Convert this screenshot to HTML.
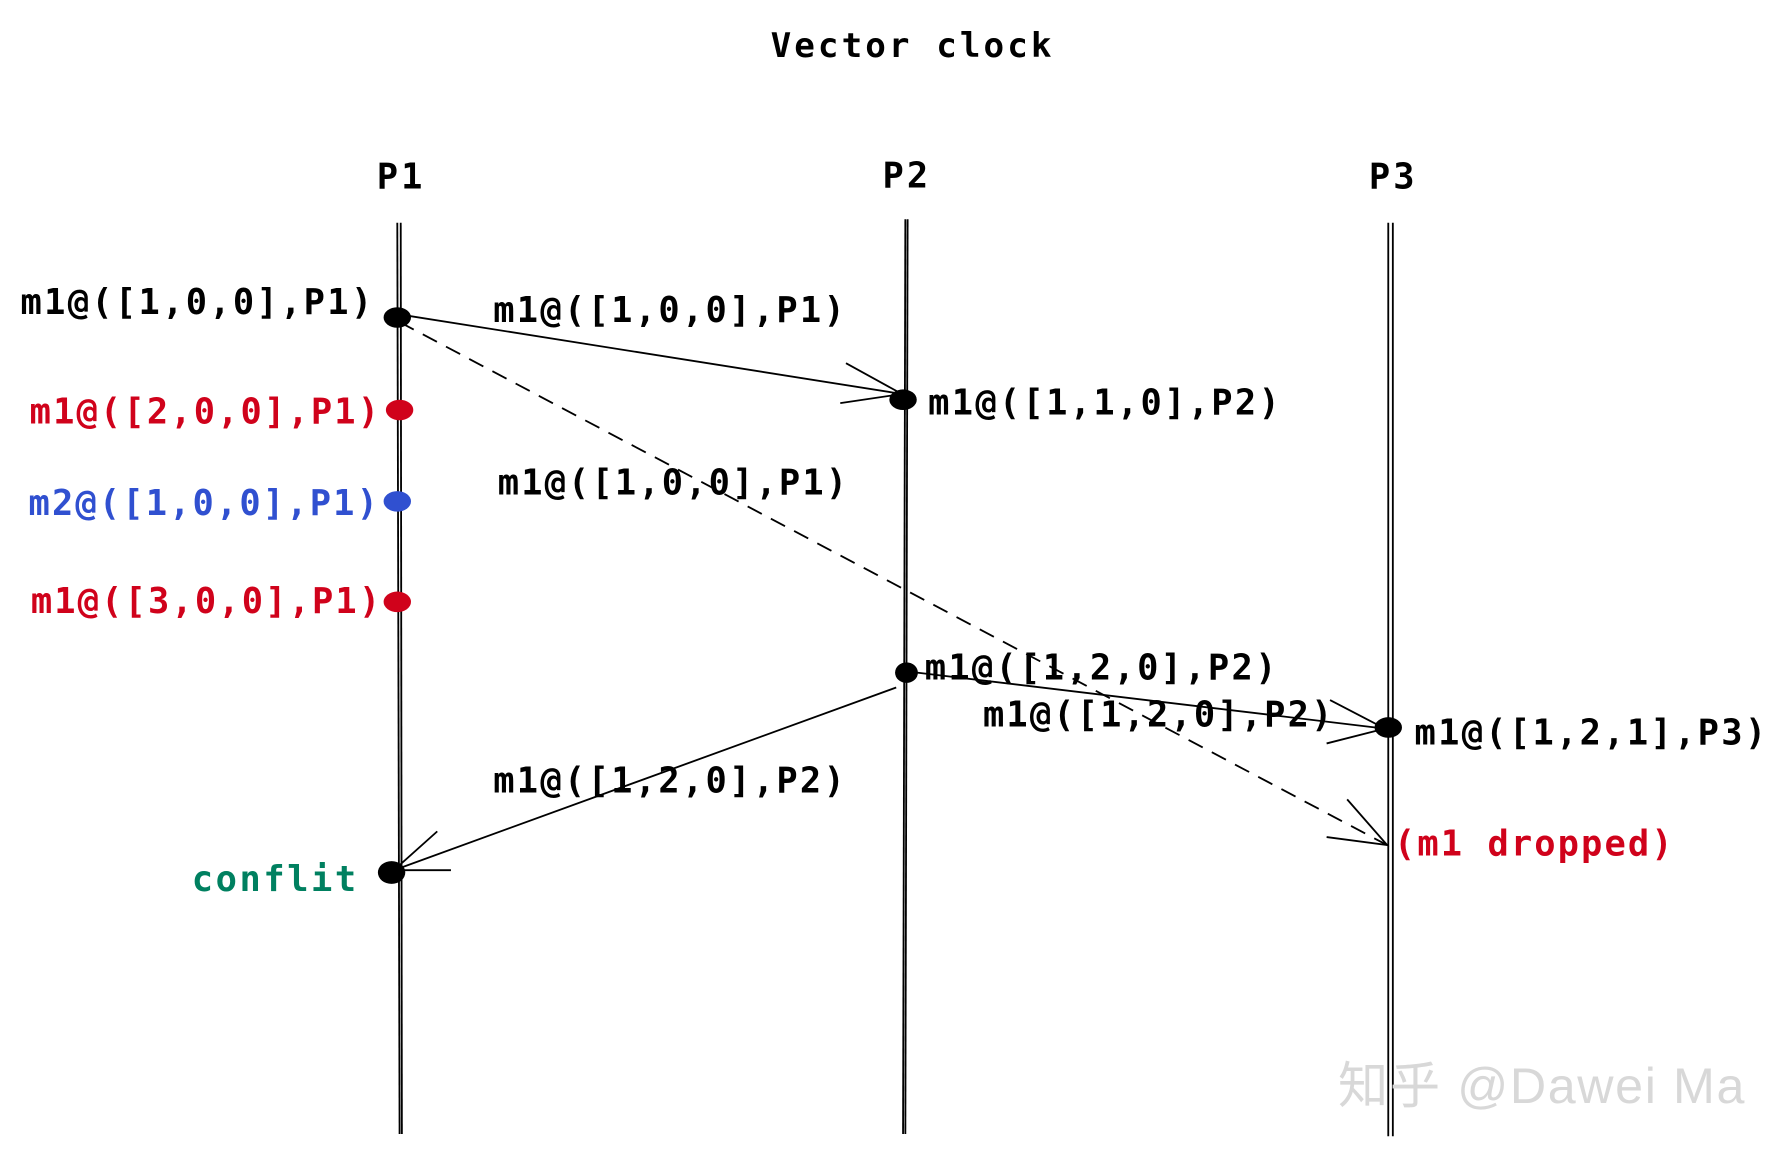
<!DOCTYPE html>
<html><head><meta charset="utf-8"><style>html,body{margin:0;padding:0;background:#fff}svg{display:block}</style></head><body>
<svg width="1781" height="1150" viewBox="0 0 1560 1007" preserveAspectRatio="none" xmlns="http://www.w3.org/2000/svg">
<g font-family="DejaVu Sans Mono, Liberation Mono, monospace" font-size="31" font-weight="bold" fill="#000">
<text x="675" y="50" textLength="246" font-size="30">Vector clock</text>
<text x="330" y="165" textLength="40">P1</text>
<text x="773" y="164" textLength="40">P2</text>
<text x="1199" y="165" textLength="40">P3</text>
</g>
<g stroke="#000" stroke-width="1.6" fill="none">
<line x1="348" y1="195" x2="350" y2="993"/><line x1="351" y1="195" x2="352" y2="993"/>
<line x1="793" y1="192" x2="791" y2="993"/><line x1="795" y1="192" x2="793" y2="993"/>
<line x1="1216" y1="195" x2="1216" y2="995"/><line x1="1220" y1="195" x2="1220" y2="995"/>
<line x1="348" y1="275" x2="790" y2="345"/>
<path d="M741 318 L790 345 L736 353"/>
<line x1="350" y1="282" x2="1215" y2="740" stroke-dasharray="14,9"/>
<path d="M1180 700 L1215 740 L1162 733"/>
<line x1="795" y1="588" x2="1213" y2="638"/>
<path d="M1165 613 L1213 638 L1162 651"/>
<line x1="785" y1="602" x2="345" y2="762"/>
<path d="M383 728 L345 762 L395 762"/>
</g>
<g fill="#000">
<ellipse cx="348" cy="278" rx="12" ry="9"/>
<ellipse cx="791" cy="350" rx="12" ry="9"/>
<ellipse cx="794" cy="589" rx="10" ry="9"/>
<ellipse cx="1216" cy="637" rx="12" ry="9"/>
<ellipse cx="343" cy="764" rx="12" ry="10"/>
<ellipse cx="350" cy="359" rx="12" ry="9" fill="#d0021b"/>
<ellipse cx="348" cy="439" rx="12" ry="9" fill="#3050d0"/>
<ellipse cx="348" cy="527" rx="12" ry="9" fill="#d0021b"/>
</g>
<g font-family="DejaVu Sans Mono, Liberation Mono, monospace" font-size="31" font-weight="bold" fill="#000">
<text x="18" y="275" textLength="308">m1@([1,0,0],P1)</text>
<text x="432" y="282" textLength="308">m1@([1,0,0],P1)</text>
<text x="813" y="363" textLength="308">m1@([1,1,0],P2)</text>
<text x="26" y="371" textLength="306" fill="#d0021b">m1@([2,0,0],P1)</text>
<text x="436" y="433" textLength="306">m1@([1,0,0],P1)</text>
<text x="25" y="451" textLength="306" fill="#3050d0">m2@([1,0,0],P1)</text>
<text x="27" y="537" textLength="306" fill="#d0021b">m1@([3,0,0],P1)</text>
<text x="810" y="595" textLength="308">m1@([1,2,0],P2)</text>
<text x="861" y="636" textLength="306">m1@([1,2,0],P2)</text>
<text x="1239" y="652" textLength="308">m1@([1,2,1],P3)</text>
<text x="432" y="694" textLength="308">m1@([1,2,0],P2)</text>
<text x="1221" y="749" textLength="244" fill="#d0021b">(m1 dropped)</text>
<text x="168" y="780" textLength="144" fill="#008060">conflit</text>
</g>
<text x="1172" y="966" font-family="Liberation Sans, Noto Sans CJK SC, sans-serif" font-size="44" fill="#d8d8d8" textLength="356">知乎 @Dawei Ma</text>
</svg>
</body></html>
